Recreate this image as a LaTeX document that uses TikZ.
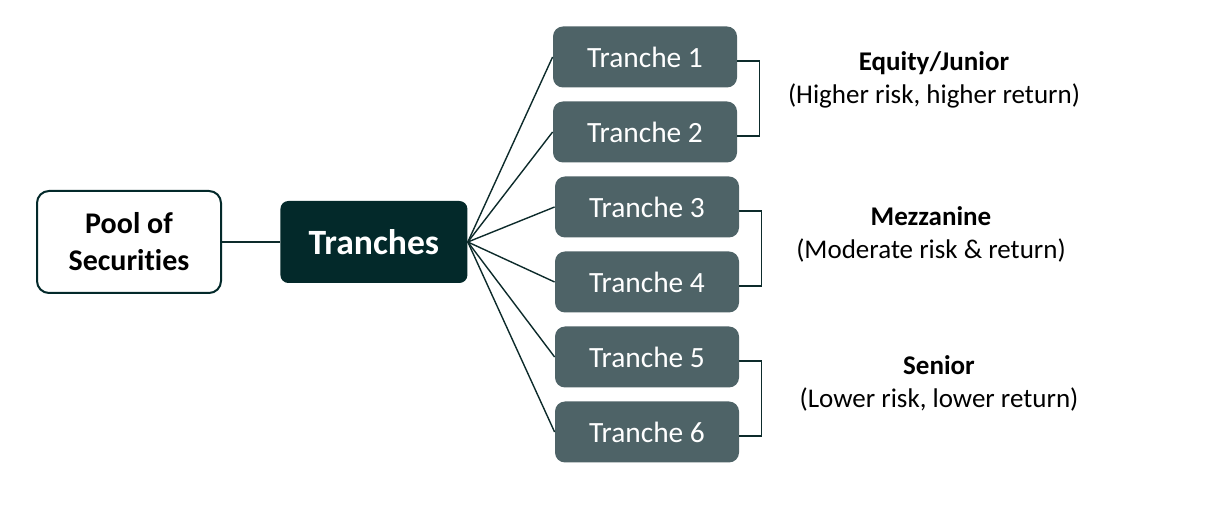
\documentclass[tikz,border=0pt]{standalone}
\usepackage{fontspec}
\setmainfont{Carlito}[Ligatures=NoCommon]
\usepackage{xcolor}
\usetikzlibrary{positioning,calc}
\definecolor{deepteal}{HTML}{03292A}
\definecolor{slateteal}{HTML}{4E6367}
\definecolor{linkcol}{HTML}{0D2B2B}

\begin{document}
\begin{tikzpicture}[
   node distance = 6.6pt and 29pt,
   pool/.style = {draw=deepteal, line width=1pt, rounded corners=6pt, fill=white,
                  minimum width=92pt, minimum height=51pt, align=center,
                  font=\fontsize{15}{18.5}\selectfont\bfseries},
   hub/.style  = {fill=deepteal, rounded corners=4pt, text=white,
                  minimum width=93.5pt, minimum height=41pt,
                  font=\fontsize{17.8}{20}\selectfont\bfseries},
   tbox/.style = {fill=slateteal, rounded corners=5pt, text=white,
                  minimum width=92pt, minimum height=30.5pt,
                  font=\fontsize{14.7}{17}\selectfont},
   risk/.style = {align=center, font=\fontsize{13.5}{16.5}\selectfont},
   link/.style = {draw=linkcol, line width=0.7pt},
   brace/.style = {draw=linkcol, line width=0.8pt}
]
\useasboundingbox (0,0) rectangle (616pt,257pt);

\node[pool] (pool) at (64.5pt,136pt) {Pool of\\Securities};
\node[hub, right=of pool] (hub) {Tranches};

\node[tbox] (t1) at (322.5pt,228.5pt) {Tranche 1};
\node[tbox, below=of t1] (t2) {Tranche 2};
\node[tbox, below=of t2, xshift=1pt] (t3) {Tranche 3};
\node[tbox, below=of t3] (t4) {Tranche 4};
\node[tbox, below=of t4] (t5) {Tranche 5};
\node[tbox, below=of t5] (t6) {Tranche 6};

\node[risk] (junior) at (467pt,217pt) {\textbf{Equity/Junior}\\(Higher risk, higher return)};
\node[risk] (mezz)   at (465.5pt,140pt) {\textbf{Mezzanine}\\(Moderate risk \& return)};
\node[risk] (senior) at (469.5pt,65.5pt) {\textbf{Senior}\\(Lower risk, lower return)};

\draw[link] (pool) -- (hub);
\foreach \t in {t1,t2,t3,t4,t5,t6}
   \draw[link] (hub.east) -- (\t.west);

% brackets joining each pair
\draw[brace] ([yshift=-2pt]t1.east) -- ++(11pt,0) |- ([yshift=-2pt]t2.east);
\draw[brace] ([yshift=-2pt]t3.east) -- ++(11pt,0) |- ([yshift=-2pt]t4.east);
\draw[brace] ([yshift=-2pt]t5.east) -- ++(11pt,0) |- ([yshift=-2pt]t6.east);
\end{tikzpicture}
\end{document}
